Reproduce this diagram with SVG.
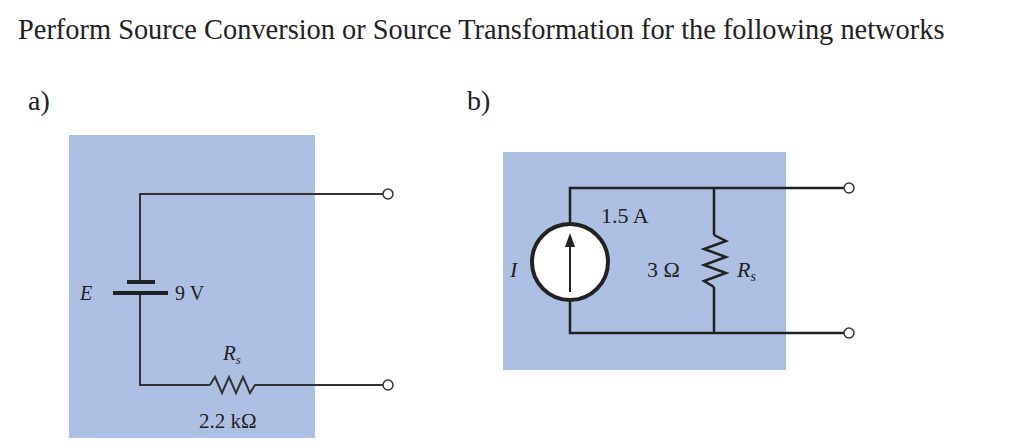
<svg xmlns="http://www.w3.org/2000/svg" width="1010" height="448" viewBox="0 0 1010 448">
<style>
.t{font-family:"Liberation Serif",serif;fill:#222}
.w{stroke:#333;stroke-width:2;fill:none}
.wb{stroke:#222;stroke-width:2.5;fill:none}
.term{fill:#fff;stroke:#333;stroke-width:1.5}
.bg{fill:#adc0e3}
</style>
<rect width="1010" height="448" fill="#fff"/>
<text class="t" x="18" y="39" font-size="28.4">Perform Source Conversion or Source Transformation for the following networks</text>
<text class="t" x="28" y="110" font-size="28">a)</text>
<text class="t" x="467" y="110" font-size="28">b)</text>
<g id="circuitA">
<rect class="bg" x="69" y="135" width="246" height="303"/>
<g id="connectorsA">
<path class="w" d="M383 194H140V282M140 293V385H210M258 385H383"/>
</g>
<g id="batteryE">
<line x1="127" y1="282" x2="155" y2="282" stroke="#222" stroke-width="4"/>
<line x1="113" y1="293" x2="168" y2="293" stroke="#222" stroke-width="4"/>
<text class="t" x="80" y="300" font-size="20" font-style="italic">E</text>
<text class="t" x="175" y="300" font-size="20">9 V</text>
</g>
<g id="resistorA">
<path class="w" d="M210 385L215 377L222 393L229 377L236 393L243 377L250 393L255 385H258"/>
<text class="t" x="223" y="360" font-size="21" font-style="italic">R<tspan font-size="13" dy="4">s</tspan></text>
<text class="t" x="199" y="428" font-size="21">2.2 kΩ</text>
</g>
<circle class="term" cx="388" cy="194" r="5"/>
<circle class="term" cx="388" cy="385" r="5"/>
</g>
<g id="circuitB">
<rect class="bg" x="503" y="152" width="283" height="218"/>
<g id="connectorsB">
<path class="wb" d="M844 188H570V223M570 301V333H844M714 188V235M714 287V333"/>
</g>
<g id="sourceI">
<circle cx="570" cy="262" r="38" fill="#fff" stroke="#222" stroke-width="4"/>
<line x1="570" y1="292" x2="570" y2="244" stroke="#222" stroke-width="2"/>
<path d="M570 233L565 247H575Z" fill="#222"/>
<text class="t" x="510" y="277" font-size="22" font-style="italic">I</text>
<text class="t" x="601" y="223" font-size="22">1.5 A</text>
</g>
<g id="resistorB">
<path class="wb" d="M714 235L726 241L704 249L726 257L704 265L726 273L704 281L714 287"/>
<text class="t" x="647" y="277" font-size="22">3 Ω</text>
<text class="t" x="737" y="277" font-size="22" font-style="italic">R<tspan font-size="14" dy="4">s</tspan></text>
</g>
<circle class="term" cx="849" cy="188" r="5"/>
<circle class="term" cx="849" cy="333" r="5"/>
</g>
</svg>
